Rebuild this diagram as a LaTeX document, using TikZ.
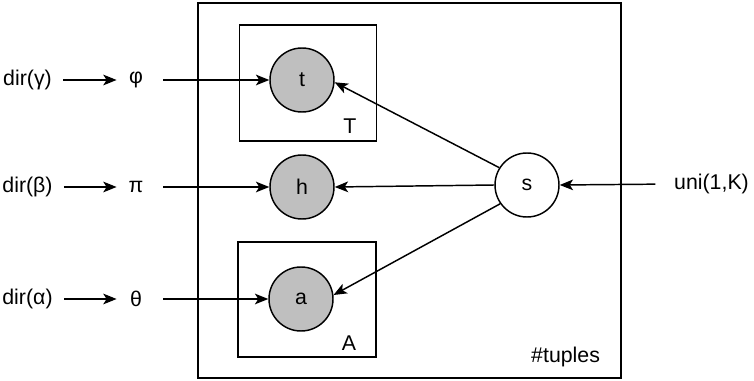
\documentclass[tikz,border=0pt]{standalone}
\usepackage{fontspec}
\setmainfont{Liberation Sans}
\usepackage{tikz}
\usetikzlibrary{arrows.meta}

\begin{document}
\begin{tikzpicture}[x=0.75pt,y=-0.75pt,line width=1.1pt,>={Stealth[length=10pt,width=8pt,inset=2.5pt]},
  font=\fontsize{16}{19}\selectfont,
  var/.style={draw,circle,minimum size=48pt,inner sep=0pt},
  obs/.style={var,fill=black!25},
  plate/.style={draw,rectangle,inner sep=0pt},
  platelab/.style={anchor=base east,inner sep=0pt},
  prior/.style={inner sep=0pt},
  param/.style={inner sep=0pt,minimum width=18pt}]
\useasboundingbox (0,0) rectangle (754,381);
% plates
\node[plate,minimum width=317.25pt,minimum height=281.25pt] (tuples) at (409.5,190.5) {};
\node[plate,minimum width=102.5pt,minimum height=87pt] (Tplate) at (308,83) {};
\node[plate,minimum width=103.5pt,minimum height=86.25pt] (Aplate) at (307,299.5) {};
\node[platelab] (Tlab) at ([shift={(-20,-8)}]Tplate.south east) {T};
\node[platelab] (Alab) at ([shift={(-20,-7)}]Aplate.south east) {A};
\node[platelab] (tuplab) at ([shift={(-21,-16)}]tuples.south east) {\#tuples};
% variables
\node[obs] (t) at (302,80) {t};
\node[obs] (h) at (302,187) {h};
\node[obs] (a) at (301,299) {a};
\node[var] (s) at (527,185) {s};
% priors
\node[prior] (dg) at (27.5,80) {dir(γ)};
\node[prior] (db) at (27.5,187) {dir(β)};
\node[prior] (da) at (27.5,299) {dir(α)};
\node[param] (phi) at (136,80) {φ};
\node[param] (pi) at (136,187) {π};
\node[param] (theta) at (136,299) {θ};
\node[prior] (uni) at (711.5,184) {uni(1,K)};
% edges
\draw[->,shorten <=8pt,shorten >=5pt] (dg) -- (phi);
\draw[->,shorten <=8pt,shorten >=5pt] (db) -- (pi);
\draw[->,shorten <=8pt,shorten >=5pt] (da) -- (theta);
\draw[->,shorten <=11pt] (phi) -- (t.west);
\draw[->,shorten <=11pt] (pi) -- (h.west);
\draw[->,shorten <=11pt] (theta) -- (a.west);
\draw[->,shorten <=13.5pt] (uni.west) -- (s.east);
\draw[->] (s.148) -- (t.-4);
\draw[->] (s.west) -- (h.east);
\draw[->] (s.215) -- (a.7);
\end{tikzpicture}
\end{document}
